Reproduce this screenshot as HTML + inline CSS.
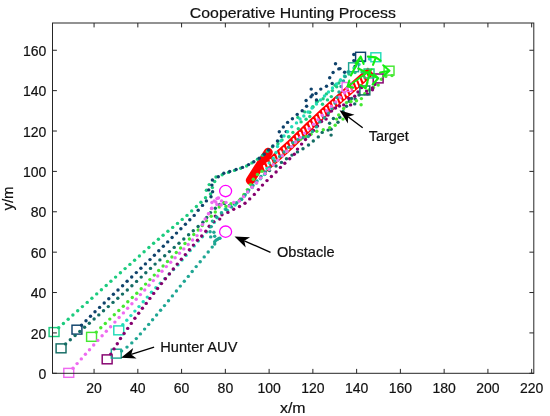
<!DOCTYPE html>
<html><head><meta charset="utf-8"><title>Cooperative Hunting Process</title>
<style>html,body{margin:0;padding:0;background:#fff}body{width:550px;height:416px;overflow:hidden}</style></head>
<body>
<svg width="550" height="416" viewBox="0 0 550 416" style="display:block">
<rect x="0" y="0" width="550" height="416" fill="#fff"/>
<rect x="49.1" y="327.6" width="9.9" height="8.9" fill="none" stroke="#1ccb7e" stroke-width="1.45"/>
<rect x="56.1" y="343.9" width="9.9" height="8.9" fill="none" stroke="#146c64" stroke-width="1.45"/>
<rect x="72.0" y="325.2" width="9.9" height="8.9" fill="none" stroke="#0f426b" stroke-width="1.45"/>
<rect x="86.6" y="332.4" width="9.9" height="8.9" fill="none" stroke="#45e832" stroke-width="1.45"/>
<rect x="63.8" y="368.4" width="9.9" height="8.9" fill="none" stroke="#ee6af0" stroke-width="1.45"/>
<rect x="113.8" y="325.9" width="9.9" height="8.9" fill="none" stroke="#22dcb8" stroke-width="1.45"/>
<rect x="102.2" y="354.9" width="9.9" height="8.9" fill="none" stroke="#85006e" stroke-width="1.45"/>
<rect x="111.3" y="349.2" width="9.9" height="8.9" fill="none" stroke="#1fa693" stroke-width="1.45"/>
<line x1="250.3" y1="180.4" x2="268.3" y2="152.2" stroke="#ff0000" stroke-width="9" stroke-linecap="round"/>
<polyline points="262.0,170.1 270.4,162.6 290.0,145.0 310.0,125.5 326.0,110.6 360.5,80.3 371.0,70.9" fill="none" stroke="#ff0000" stroke-width="9.2" stroke-linecap="butt" stroke-linejoin="round"/>
<path d="M264.03 165.81L265.68 170.09M267.30 162.89L268.95 167.17M270.57 159.97L272.22 164.24M273.84 157.03L275.49 161.31M277.11 154.09L278.76 158.37M280.38 151.16L282.03 155.43M283.65 148.22L285.30 152.50M286.92 145.28L288.57 149.56M290.19 142.26L291.84 146.54M293.46 139.07L295.11 143.35M296.73 135.88L298.38 140.16M300.00 132.69L301.65 136.97M303.27 129.51L304.92 133.78M306.54 126.32L308.19 130.59M309.81 123.16L311.46 127.44M313.08 120.12L314.73 124.40M316.35 117.07L318.00 121.35M319.62 114.03L321.27 118.31M322.89 110.98L324.54 115.26M326.16 108.00L327.81 112.27M329.43 105.12L331.08 109.40M332.70 102.25L334.35 106.53M335.97 99.38L337.62 103.66M339.24 96.51L340.89 100.79M342.51 93.64L344.16 97.92M345.78 90.77L347.43 95.04M349.05 87.89L350.70 92.17M352.32 85.02L353.97 89.30M355.59 82.15L357.24 86.43M358.86 79.28L360.51 83.56M362.13 76.36L363.78 80.64M365.40 73.43L367.05 77.71" stroke="#fff" stroke-width="2.0" stroke-linecap="round" fill="none"/>
<g fill="#1ccb7e"><circle cx="58.7" cy="327.7" r="1.72"/><circle cx="63.4" cy="323.5" r="1.72"/><circle cx="68.2" cy="319.3" r="1.72"/><circle cx="72.9" cy="315.0" r="1.72"/><circle cx="77.7" cy="310.8" r="1.72"/><circle cx="82.4" cy="306.6" r="1.72"/><circle cx="87.2" cy="302.4" r="1.72"/><circle cx="91.9" cy="298.2" r="1.72"/><circle cx="96.7" cy="293.9" r="1.72"/><circle cx="101.4" cy="289.7" r="1.72"/><circle cx="106.2" cy="285.5" r="1.72"/><circle cx="110.9" cy="281.3" r="1.72"/><circle cx="115.6" cy="277.1" r="1.72"/><circle cx="120.4" cy="272.8" r="1.72"/><circle cx="125.1" cy="268.6" r="1.72"/><circle cx="129.9" cy="264.4" r="1.72"/><circle cx="134.6" cy="260.2" r="1.72"/><circle cx="139.4" cy="256.0" r="1.72"/><circle cx="144.1" cy="251.7" r="1.72"/><circle cx="148.9" cy="247.5" r="1.72"/><circle cx="153.6" cy="243.3" r="1.72"/><circle cx="158.4" cy="239.3" r="1.72"/><circle cx="163.1" cy="235.3" r="1.72"/><circle cx="167.9" cy="231.3" r="1.72"/><circle cx="172.7" cy="227.4" r="1.72"/><circle cx="177.5" cy="223.4" r="1.72"/><circle cx="182.2" cy="219.4" r="1.72"/><circle cx="187.0" cy="215.4" r="1.72"/><circle cx="191.7" cy="210.9" r="1.72"/><circle cx="196.4" cy="206.5" r="1.72"/><circle cx="200.9" cy="202.2" r="1.72"/><circle cx="205.5" cy="197.7" r="1.72"/><circle cx="210.5" cy="194.0" r="1.72"/><circle cx="206.4" cy="190.3" r="1.72"/><circle cx="212.4" cy="187.6" r="1.72"/><circle cx="209.2" cy="184.6" r="1.72"/><circle cx="214.7" cy="181.5" r="1.72"/><circle cx="216.0" cy="177.0" r="1.72"/><circle cx="222.2" cy="174.7" r="1.72"/><circle cx="228.5" cy="172.4" r="1.72"/><circle cx="234.5" cy="170.4" r="1.72"/><circle cx="240.7" cy="168.3" r="1.72"/><circle cx="246.6" cy="166.0" r="1.72"/><circle cx="251.9" cy="162.9" r="1.72"/><circle cx="257.5" cy="159.3" r="1.72"/><circle cx="262.6" cy="155.3" r="1.72"/><circle cx="267.5" cy="151.2" r="1.72"/><circle cx="272.5" cy="146.8" r="1.72"/><circle cx="277.9" cy="143.7" r="1.72"/><circle cx="282.0" cy="140.0" r="1.72"/><circle cx="288.9" cy="136.9" r="1.72"/><circle cx="288.7" cy="136.6" r="1.72"/><circle cx="292.9" cy="132.4" r="1.72"/><circle cx="298.3" cy="128.8" r="1.72"/><circle cx="301.1" cy="121.9" r="1.72"/><circle cx="297.9" cy="117.4" r="1.72"/><circle cx="304.7" cy="111.9" r="1.72"/><circle cx="306.1" cy="119.2" r="1.72"/><circle cx="309.8" cy="116.5" r="1.72"/><circle cx="309.8" cy="112.3" r="1.72"/><circle cx="313.0" cy="106.9" r="1.72"/><circle cx="317.5" cy="101.4" r="1.72"/><circle cx="312.7" cy="107.0" r="1.72"/><circle cx="316.5" cy="102.1" r="1.72"/><circle cx="322.5" cy="104.3" r="1.72"/><circle cx="323.1" cy="98.8" r="1.72"/><circle cx="327.5" cy="99.9" r="1.72"/><circle cx="326.4" cy="93.9" r="1.72"/><circle cx="331.3" cy="96.6" r="1.72"/><circle cx="332.4" cy="90.6" r="1.72"/><circle cx="335.1" cy="85.2" r="1.72"/><circle cx="336.7" cy="86.8" r="1.72"/><circle cx="338.9" cy="83.0" r="1.72"/><circle cx="340.5" cy="80.3" r="1.72"/><circle cx="344.9" cy="76.5" r="1.72"/><circle cx="349.0" cy="74.0" r="1.72"/><circle cx="355.0" cy="72.5" r="1.72"/><circle cx="362.0" cy="72.0" r="1.72"/></g>
<g fill="#0f426b"><circle cx="81.5" cy="325.2" r="1.72"/><circle cx="86.0" cy="320.7" r="1.72"/><circle cx="90.5" cy="316.2" r="1.72"/><circle cx="95.0" cy="311.7" r="1.72"/><circle cx="99.6" cy="307.4" r="1.72"/><circle cx="104.2" cy="303.0" r="1.72"/><circle cx="108.8" cy="298.7" r="1.72"/><circle cx="113.4" cy="294.3" r="1.72"/><circle cx="118.0" cy="290.0" r="1.72"/><circle cx="122.6" cy="285.7" r="1.72"/><circle cx="127.1" cy="281.3" r="1.72"/><circle cx="131.7" cy="277.0" r="1.72"/><circle cx="136.3" cy="272.6" r="1.72"/><circle cx="140.9" cy="268.3" r="1.72"/><circle cx="145.4" cy="263.9" r="1.72"/><circle cx="150.0" cy="259.6" r="1.72"/><circle cx="154.4" cy="255.2" r="1.72"/><circle cx="158.8" cy="250.8" r="1.72"/><circle cx="163.3" cy="246.3" r="1.72"/><circle cx="167.7" cy="241.9" r="1.72"/><circle cx="172.1" cy="237.5" r="1.72"/><circle cx="176.5" cy="233.1" r="1.72"/><circle cx="180.9" cy="228.7" r="1.72"/><circle cx="185.4" cy="224.2" r="1.72"/><circle cx="189.8" cy="219.8" r="1.72"/><circle cx="194.2" cy="215.4" r="1.72"/><circle cx="198.2" cy="210.2" r="1.72"/><circle cx="202.5" cy="205.4" r="1.72"/><circle cx="206.4" cy="200.9" r="1.72"/><circle cx="211.0" cy="196.7" r="1.72"/><circle cx="212.6" cy="191.7" r="1.72"/><circle cx="208.7" cy="189.9" r="1.72"/><circle cx="211.9" cy="185.1" r="1.72"/><circle cx="212.4" cy="180.0" r="1.72"/><circle cx="218.3" cy="176.7" r="1.72"/><circle cx="223.8" cy="173.3" r="1.72"/><circle cx="229.7" cy="171.5" r="1.72"/><circle cx="236.1" cy="169.5" r="1.72"/><circle cx="242.5" cy="167.4" r="1.72"/><circle cx="248.6" cy="164.6" r="1.72"/><circle cx="253.8" cy="161.7" r="1.72"/><circle cx="259.2" cy="158.2" r="1.72"/><circle cx="264.2" cy="154.2" r="1.72"/><circle cx="268.6" cy="150.0" r="1.72"/><circle cx="272.9" cy="146.0" r="1.72"/><circle cx="277.5" cy="141.0" r="1.72"/><circle cx="281.6" cy="136.2" r="1.72"/><circle cx="286.2" cy="131.6" r="1.72"/><circle cx="281.4" cy="136.1" r="1.72"/><circle cx="279.3" cy="131.8" r="1.72"/><circle cx="283.3" cy="127.0" r="1.72"/><circle cx="287.6" cy="122.4" r="1.72"/><circle cx="292.4" cy="118.7" r="1.72"/><circle cx="297.2" cy="114.4" r="1.72"/><circle cx="302.2" cy="110.8" r="1.72"/><circle cx="306.6" cy="106.2" r="1.72"/><circle cx="306.1" cy="100.5" r="1.72"/><circle cx="311.0" cy="96.7" r="1.72"/><circle cx="312.3" cy="94.9" r="1.72"/><circle cx="316.0" cy="93.5" r="1.72"/><circle cx="316.5" cy="99.9" r="1.72"/><circle cx="311.2" cy="89.1" r="1.72"/><circle cx="320.8" cy="89.1" r="1.72"/><circle cx="326.5" cy="86.2" r="1.72"/><circle cx="332.2" cy="83.5" r="1.72"/><circle cx="329.7" cy="77.7" r="1.72"/><circle cx="333.1" cy="72.5" r="1.72"/><circle cx="338.8" cy="68.9" r="1.72"/><circle cx="335.5" cy="63.8" r="1.72"/><circle cx="344.6" cy="72.2" r="1.72"/><circle cx="340.0" cy="68.6" r="1.72"/><circle cx="354.9" cy="66.5" r="1.72"/><circle cx="353.8" cy="60.6" r="1.72"/><circle cx="353.8" cy="54.5" r="1.72"/></g>
<g fill="#146c64"><circle cx="65.6" cy="343.9" r="1.72"/><circle cx="70.3" cy="339.8" r="1.72"/><circle cx="75.1" cy="335.6" r="1.72"/><circle cx="79.8" cy="331.5" r="1.72"/><circle cx="84.6" cy="327.3" r="1.72"/><circle cx="89.3" cy="323.2" r="1.72"/><circle cx="94.1" cy="319.0" r="1.72"/><circle cx="98.8" cy="314.9" r="1.72"/><circle cx="103.5" cy="310.8" r="1.72"/><circle cx="108.3" cy="306.6" r="1.72"/><circle cx="113.0" cy="302.4" r="1.72"/><circle cx="117.8" cy="298.3" r="1.72"/><circle cx="122.5" cy="294.1" r="1.72"/><circle cx="127.3" cy="290.0" r="1.72"/><circle cx="131.9" cy="285.7" r="1.72"/><circle cx="136.6" cy="281.4" r="1.72"/><circle cx="141.2" cy="277.1" r="1.72"/><circle cx="145.8" cy="272.7" r="1.72"/><circle cx="150.5" cy="268.4" r="1.72"/><circle cx="155.1" cy="264.1" r="1.72"/><circle cx="159.9" cy="259.9" r="1.72"/><circle cx="164.7" cy="255.7" r="1.72"/><circle cx="169.4" cy="251.6" r="1.72"/><circle cx="174.2" cy="247.4" r="1.72"/><circle cx="179.0" cy="243.2" r="1.72"/><circle cx="183.8" cy="239.0" r="1.72"/><circle cx="188.6" cy="234.8" r="1.72"/><circle cx="193.3" cy="230.7" r="1.72"/><circle cx="198.1" cy="226.5" r="1.72"/><circle cx="202.9" cy="222.3" r="1.72"/><circle cx="206.7" cy="217.5" r="1.72"/><circle cx="210.5" cy="212.6" r="1.72"/><circle cx="215.3" cy="208.2" r="1.72"/><circle cx="219.7" cy="204.5" r="1.72"/><circle cx="224.5" cy="203.5" r="1.72"/><circle cx="229.5" cy="205.5" r="1.72"/><circle cx="234.5" cy="204.0" r="1.72"/><circle cx="239.5" cy="200.5" r="1.72"/><circle cx="243.8" cy="196.0" r="1.72"/><circle cx="247.8" cy="191.3" r="1.72"/><circle cx="252.0" cy="186.8" r="1.72"/><circle cx="256.2" cy="182.5" r="1.72"/><circle cx="260.5" cy="178.3" r="1.72"/><circle cx="264.8" cy="174.3" r="1.72"/><circle cx="269.5" cy="170.5" r="1.72"/><circle cx="276.0" cy="166.0" r="1.72"/><circle cx="281.5" cy="162.4" r="1.72"/><circle cx="286.5" cy="158.7" r="1.72"/><circle cx="292.0" cy="155.1" r="1.72"/><circle cx="297.5" cy="151.9" r="1.72"/><circle cx="303.0" cy="148.7" r="1.72"/><circle cx="308.5" cy="145.0" r="1.72"/><circle cx="313.3" cy="141.0" r="1.72"/><circle cx="318.3" cy="136.9" r="1.72"/><circle cx="322.2" cy="132.4" r="1.72"/><circle cx="328.1" cy="130.1" r="1.72"/><circle cx="331.1" cy="129.2" r="1.72"/><circle cx="331.1" cy="135.1" r="1.72"/><circle cx="329.6" cy="123.2" r="1.72"/><circle cx="333.4" cy="118.5" r="1.72"/><circle cx="338.0" cy="122.3" r="1.72"/><circle cx="339.8" cy="117.3" r="1.72"/><circle cx="343.0" cy="111.5" r="1.72"/><circle cx="346.5" cy="106.2" r="1.72"/><circle cx="349.2" cy="101.2" r="1.72"/><circle cx="351.5" cy="98.5" r="1.72"/><circle cx="355.2" cy="98.9" r="1.72"/><circle cx="354.7" cy="103.9" r="1.72"/><circle cx="359.0" cy="95.0" r="1.72"/></g>
<g fill="#45e832"><circle cx="96.3" cy="332.1" r="1.72"/><circle cx="100.8" cy="327.8" r="1.72"/><circle cx="105.3" cy="323.5" r="1.72"/><circle cx="109.8" cy="319.1" r="1.72"/><circle cx="114.3" cy="314.8" r="1.72"/><circle cx="118.8" cy="310.5" r="1.72"/><circle cx="123.3" cy="306.2" r="1.72"/><circle cx="127.8" cy="301.8" r="1.72"/><circle cx="132.3" cy="297.5" r="1.72"/><circle cx="136.8" cy="293.2" r="1.72"/><circle cx="141.2" cy="288.7" r="1.72"/><circle cx="145.6" cy="284.1" r="1.72"/><circle cx="149.9" cy="279.6" r="1.72"/><circle cx="154.3" cy="275.1" r="1.72"/><circle cx="158.7" cy="270.5" r="1.72"/><circle cx="163.1" cy="266.0" r="1.72"/><circle cx="167.5" cy="261.5" r="1.72"/><circle cx="171.9" cy="257.0" r="1.72"/><circle cx="176.3" cy="252.5" r="1.72"/><circle cx="180.6" cy="248.0" r="1.72"/><circle cx="185.0" cy="243.5" r="1.72"/><circle cx="189.4" cy="239.0" r="1.72"/><circle cx="193.8" cy="234.5" r="1.72"/><circle cx="198.2" cy="230.0" r="1.72"/><circle cx="202.3" cy="225.5" r="1.72"/><circle cx="206.5" cy="220.8" r="1.72"/><circle cx="211.2" cy="216.3" r="1.72"/><circle cx="215.3" cy="212.0" r="1.72"/><circle cx="219.2" cy="207.1" r="1.72"/><circle cx="223.7" cy="202.4" r="1.72"/><circle cx="226.0" cy="206.5" r="1.72"/><circle cx="231.0" cy="203.8" r="1.72"/><circle cx="236.0" cy="203.5" r="1.72"/><circle cx="240.3" cy="199.3" r="1.72"/><circle cx="244.0" cy="194.5" r="1.72"/><circle cx="247.4" cy="189.6" r="1.72"/><circle cx="250.6" cy="184.6" r="1.72"/><circle cx="253.3" cy="179.2" r="1.72"/><circle cx="257.4" cy="174.5" r="1.72"/><circle cx="262.0" cy="171.2" r="1.72"/><circle cx="265.1" cy="173.6" r="1.72"/><circle cx="269.2" cy="169.2" r="1.72"/><circle cx="273.3" cy="164.7" r="1.72"/><circle cx="277.9" cy="160.3" r="1.72"/><circle cx="282.4" cy="155.7" r="1.72"/><circle cx="286.8" cy="151.2" r="1.72"/><circle cx="291.6" cy="146.6" r="1.72"/><circle cx="295.7" cy="142.0" r="1.72"/><circle cx="300.5" cy="139.3" r="1.72"/><circle cx="306.0" cy="136.5" r="1.72"/><circle cx="311.0" cy="134.2" r="1.72"/><circle cx="316.8" cy="131.3" r="1.72"/><circle cx="323.3" cy="129.8" r="1.72"/><circle cx="329.7" cy="127.8" r="1.72"/><circle cx="335.2" cy="125.2" r="1.72"/><circle cx="336.6" cy="119.1" r="1.72"/><circle cx="343.0" cy="119.1" r="1.72"/><circle cx="338.7" cy="114.9" r="1.72"/><circle cx="343.7" cy="108.5" r="1.72"/><circle cx="346.5" cy="102.6" r="1.72"/><circle cx="351.0" cy="101.5" r="1.72"/><circle cx="356.5" cy="100.7" r="1.72"/><circle cx="361.4" cy="98.6" r="1.72"/><circle cx="361.1" cy="104.7" r="1.72"/><circle cx="364.8" cy="93.7" r="1.72"/><circle cx="369.0" cy="90.0" r="1.72"/><circle cx="373.5" cy="87.5" r="1.72"/><circle cx="378.2" cy="85.1" r="1.72"/><circle cx="381.5" cy="79.3" r="1.72"/><circle cx="385.8" cy="76.4" r="1.72"/><circle cx="392.0" cy="75.6" r="1.72"/></g>
<g fill="#22dcb8"><circle cx="122.8" cy="324.7" r="1.72"/><circle cx="126.8" cy="320.2" r="1.72"/><circle cx="130.9" cy="315.6" r="1.72"/><circle cx="134.9" cy="311.1" r="1.72"/><circle cx="139.0" cy="306.6" r="1.72"/><circle cx="143.2" cy="301.8" r="1.72"/><circle cx="147.3" cy="297.1" r="1.72"/><circle cx="151.5" cy="292.3" r="1.72"/><circle cx="155.9" cy="287.7" r="1.72"/><circle cx="160.3" cy="283.2" r="1.72"/><circle cx="164.8" cy="278.6" r="1.72"/><circle cx="169.2" cy="274.0" r="1.72"/><circle cx="173.6" cy="269.5" r="1.72"/><circle cx="178.0" cy="264.9" r="1.72"/><circle cx="182.1" cy="260.1" r="1.72"/><circle cx="186.1" cy="255.4" r="1.72"/><circle cx="190.2" cy="250.6" r="1.72"/><circle cx="194.2" cy="245.9" r="1.72"/><circle cx="198.3" cy="241.1" r="1.72"/><circle cx="202.5" cy="236.8" r="1.72"/><circle cx="206.6" cy="232.0" r="1.72"/><circle cx="210.0" cy="227.0" r="1.72"/><circle cx="214.3" cy="222.4" r="1.72"/><circle cx="217.3" cy="217.8" r="1.72"/><circle cx="221.5" cy="212.7" r="1.72"/><circle cx="225.2" cy="209.1" r="1.72"/><circle cx="227.5" cy="210.5" r="1.72"/><circle cx="230.2" cy="206.3" r="1.72"/><circle cx="235.2" cy="205.0" r="1.72"/><circle cx="237.0" cy="202.7" r="1.72"/><circle cx="241.6" cy="199.5" r="1.72"/><circle cx="244.4" cy="196.3" r="1.72"/><circle cx="248.0" cy="192.0" r="1.72"/><circle cx="252.3" cy="187.5" r="1.72"/><circle cx="256.5" cy="183.0" r="1.72"/><circle cx="260.5" cy="178.8" r="1.72"/><circle cx="264.5" cy="174.5" r="1.72"/><circle cx="267.0" cy="168.5" r="1.72"/><circle cx="269.2" cy="162.9" r="1.72"/><circle cx="273.3" cy="158.3" r="1.72"/><circle cx="276.0" cy="152.5" r="1.72"/><circle cx="277.5" cy="146.5" r="1.72"/><circle cx="280.7" cy="140.9" r="1.72"/><circle cx="284.0" cy="136.0" r="1.72"/><circle cx="287.6" cy="131.8" r="1.72"/><circle cx="291.7" cy="126.7" r="1.72"/><circle cx="296.5" cy="122.9" r="1.72"/><circle cx="300.0" cy="119.0" r="1.72"/><circle cx="303.8" cy="116.0" r="1.72"/><circle cx="308.0" cy="112.0" r="1.72"/><circle cx="312.0" cy="108.0" r="1.72"/><circle cx="316.5" cy="104.0" r="1.72"/><circle cx="320.5" cy="100.0" r="1.72"/><circle cx="324.5" cy="96.0" r="1.72"/><circle cx="328.5" cy="92.0" r="1.72"/><circle cx="332.5" cy="88.0" r="1.72"/><circle cx="336.5" cy="84.0" r="1.72"/><circle cx="340.5" cy="80.0" r="1.72"/><circle cx="344.5" cy="76.0" r="1.72"/><circle cx="349.0" cy="72.0" r="1.72"/><circle cx="354.0" cy="68.0" r="1.72"/><circle cx="359.0" cy="64.5" r="1.72"/><circle cx="364.0" cy="61.5" r="1.72"/><circle cx="369.5" cy="59.0" r="1.72"/></g>
<g fill="#85006e"><circle cx="110.8" cy="354.1" r="1.72"/><circle cx="114.0" cy="348.9" r="1.72"/><circle cx="117.3" cy="343.7" r="1.72"/><circle cx="120.5" cy="338.5" r="1.72"/><circle cx="124.1" cy="333.4" r="1.72"/><circle cx="127.7" cy="328.4" r="1.72"/><circle cx="131.3" cy="323.4" r="1.72"/><circle cx="134.9" cy="318.3" r="1.72"/><circle cx="138.7" cy="313.3" r="1.72"/><circle cx="142.4" cy="308.3" r="1.72"/><circle cx="146.2" cy="303.4" r="1.72"/><circle cx="149.9" cy="298.4" r="1.72"/><circle cx="153.7" cy="293.4" r="1.72"/><circle cx="157.6" cy="288.5" r="1.72"/><circle cx="161.5" cy="283.6" r="1.72"/><circle cx="165.4" cy="278.8" r="1.72"/><circle cx="169.4" cy="273.9" r="1.72"/><circle cx="173.3" cy="269.0" r="1.72"/><circle cx="177.2" cy="264.1" r="1.72"/><circle cx="181.3" cy="259.3" r="1.72"/><circle cx="185.3" cy="254.6" r="1.72"/><circle cx="189.4" cy="249.8" r="1.72"/><circle cx="193.4" cy="245.1" r="1.72"/><circle cx="197.5" cy="240.3" r="1.72"/><circle cx="201.7" cy="236.0" r="1.72"/><circle cx="205.8" cy="231.2" r="1.72"/><circle cx="209.2" cy="226.2" r="1.72"/><circle cx="213.7" cy="221.6" r="1.72"/><circle cx="215.3" cy="216.1" r="1.72"/><circle cx="219.7" cy="219.1" r="1.72"/><circle cx="222.0" cy="214.7" r="1.72"/><circle cx="227.9" cy="212.4" r="1.72"/><circle cx="233.7" cy="209.3" r="1.72"/><circle cx="239.5" cy="206.5" r="1.72"/><circle cx="245.0" cy="203.3" r="1.72"/><circle cx="249.7" cy="198.9" r="1.72"/><circle cx="254.3" cy="194.4" r="1.72"/><circle cx="258.4" cy="189.6" r="1.72"/><circle cx="262.5" cy="185.1" r="1.72"/><circle cx="267.0" cy="180.6" r="1.72"/><circle cx="271.4" cy="176.5" r="1.72"/><circle cx="276.1" cy="172.0" r="1.72"/><circle cx="280.4" cy="167.4" r="1.72"/><circle cx="284.8" cy="163.3" r="1.72"/><circle cx="289.7" cy="158.7" r="1.72"/><circle cx="294.3" cy="154.2" r="1.72"/><circle cx="297.5" cy="149.1" r="1.72"/><circle cx="301.6" cy="144.1" r="1.72"/><circle cx="305.5" cy="139.5" r="1.72"/><circle cx="309.5" cy="135.0" r="1.72"/><circle cx="313.5" cy="130.5" r="1.72"/><circle cx="317.5" cy="126.0" r="1.72"/><circle cx="321.5" cy="121.5" r="1.72"/><circle cx="326.1" cy="119.1" r="1.72"/><circle cx="328.0" cy="115.0" r="1.72"/><circle cx="331.5" cy="111.0" r="1.72"/><circle cx="335.5" cy="108.0" r="1.72"/><circle cx="339.5" cy="106.0" r="1.72"/><circle cx="343.7" cy="104.9" r="1.72"/><circle cx="350.6" cy="104.9" r="1.72"/><circle cx="348.8" cy="98.5" r="1.72"/><circle cx="354.7" cy="96.2" r="1.72"/><circle cx="358.0" cy="92.0" r="1.72"/><circle cx="361.6" cy="87.5" r="1.72"/><circle cx="366.6" cy="91.1" r="1.72"/><circle cx="367.5" cy="93.9" r="1.72"/><circle cx="372.5" cy="89.8" r="1.72"/><circle cx="372.4" cy="88.0" r="1.72"/><circle cx="374.9" cy="84.4" r="1.72"/></g>
<g fill="#1fa693"><circle cx="121.6" cy="350.9" r="1.72"/><circle cx="127.0" cy="347.1" r="1.72"/><circle cx="131.8" cy="342.9" r="1.72"/><circle cx="136.3" cy="338.6" r="1.72"/><circle cx="140.4" cy="333.9" r="1.72"/><circle cx="144.6" cy="329.1" r="1.72"/><circle cx="148.7" cy="324.4" r="1.72"/><circle cx="152.6" cy="319.7" r="1.72"/><circle cx="156.6" cy="315.0" r="1.72"/><circle cx="160.6" cy="310.3" r="1.72"/><circle cx="164.5" cy="305.6" r="1.72"/><circle cx="168.5" cy="300.7" r="1.72"/><circle cx="172.4" cy="295.9" r="1.72"/><circle cx="176.4" cy="291.0" r="1.72"/><circle cx="180.3" cy="286.1" r="1.72"/><circle cx="184.3" cy="281.2" r="1.72"/><circle cx="188.3" cy="276.4" r="1.72"/><circle cx="192.2" cy="271.5" r="1.72"/><circle cx="196.2" cy="266.6" r="1.72"/><circle cx="200.2" cy="261.7" r="1.72"/><circle cx="204.2" cy="256.9" r="1.72"/><circle cx="208.2" cy="252.0" r="1.72"/><circle cx="212.2" cy="247.1" r="1.72"/><circle cx="214.7" cy="244.0" r="1.72"/><circle cx="214.7" cy="241.7" r="1.72"/><circle cx="216.0" cy="240.3" r="1.72"/><circle cx="217.4" cy="239.4" r="1.72"/><circle cx="218.8" cy="238.5" r="1.72"/><circle cx="219.9" cy="238.3" r="1.72"/><circle cx="214.7" cy="236.2" r="1.72"/><circle cx="210.7" cy="236.9" r="1.72"/><circle cx="213.9" cy="232.3" r="1.72"/><circle cx="210.1" cy="231.7" r="1.72"/><circle cx="211.3" cy="226.6" r="1.72"/><circle cx="212.4" cy="221.1" r="1.72"/><circle cx="216.5" cy="217.0" r="1.72"/><circle cx="221.5" cy="212.9" r="1.72"/><circle cx="226.0" cy="209.5" r="1.72"/><circle cx="231.5" cy="207.0" r="1.72"/><circle cx="236.4" cy="202.9" r="1.72"/><circle cx="241.5" cy="199.2" r="1.72"/><circle cx="245.2" cy="194.7" r="1.72"/><circle cx="248.8" cy="190.1" r="1.72"/><circle cx="253.0" cy="185.5" r="1.72"/><circle cx="257.0" cy="181.0" r="1.72"/><circle cx="261.0" cy="176.5" r="1.72"/><circle cx="265.3" cy="172.0" r="1.72"/><circle cx="269.6" cy="167.5" r="1.72"/><circle cx="274.7" cy="161.0" r="1.72"/><circle cx="279.7" cy="156.5" r="1.72"/><circle cx="284.1" cy="151.9" r="1.72"/><circle cx="288.4" cy="147.3" r="1.72"/><circle cx="292.9" cy="142.7" r="1.72"/><circle cx="298.0" cy="139.5" r="1.72"/><circle cx="303.0" cy="137.5" r="1.72"/><circle cx="308.3" cy="136.5" r="1.72"/><circle cx="312.4" cy="131.6" r="1.72"/><circle cx="316.5" cy="126.9" r="1.72"/><circle cx="319.7" cy="121.9" r="1.72"/><circle cx="324.3" cy="117.7" r="1.72"/><circle cx="328.5" cy="113.0" r="1.72"/><circle cx="332.0" cy="108.5" r="1.72"/><circle cx="335.0" cy="103.0" r="1.72"/><circle cx="337.0" cy="97.5" r="1.72"/><circle cx="339.0" cy="92.0" r="1.72"/><circle cx="341.0" cy="86.5" r="1.72"/><circle cx="343.5" cy="81.0" r="1.72"/><circle cx="345.2" cy="76.6" r="1.72"/><circle cx="348.0" cy="72.0" r="1.72"/></g>
<g fill="#ee6af0"><circle cx="73.0" cy="368.2" r="1.72"/><circle cx="77.1" cy="363.6" r="1.72"/><circle cx="81.3" cy="358.9" r="1.72"/><circle cx="85.4" cy="354.3" r="1.72"/><circle cx="89.5" cy="349.7" r="1.72"/><circle cx="93.7" cy="345.0" r="1.72"/><circle cx="97.8" cy="340.4" r="1.72"/><circle cx="102.1" cy="335.8" r="1.72"/><circle cx="106.3" cy="331.2" r="1.72"/><circle cx="110.6" cy="326.7" r="1.72"/><circle cx="114.9" cy="322.1" r="1.72"/><circle cx="119.1" cy="317.5" r="1.72"/><circle cx="123.4" cy="312.9" r="1.72"/><circle cx="127.6" cy="308.3" r="1.72"/><circle cx="131.9" cy="303.7" r="1.72"/><circle cx="136.2" cy="299.2" r="1.72"/><circle cx="140.4" cy="294.6" r="1.72"/><circle cx="144.7" cy="290.0" r="1.72"/><circle cx="149.0" cy="285.3" r="1.72"/><circle cx="153.3" cy="280.6" r="1.72"/><circle cx="157.7" cy="276.0" r="1.72"/><circle cx="162.0" cy="271.3" r="1.72"/><circle cx="166.3" cy="266.6" r="1.72"/><circle cx="170.7" cy="262.2" r="1.72"/><circle cx="175.1" cy="257.7" r="1.72"/><circle cx="179.5" cy="253.3" r="1.72"/><circle cx="183.8" cy="248.9" r="1.72"/><circle cx="188.2" cy="244.5" r="1.72"/><circle cx="192.6" cy="240.0" r="1.72"/><circle cx="197.0" cy="235.6" r="1.72"/><circle cx="200.7" cy="230.3" r="1.72"/><circle cx="202.5" cy="224.6" r="1.72"/><circle cx="205.2" cy="218.9" r="1.72"/><circle cx="208.5" cy="213.8" r="1.72"/><circle cx="211.5" cy="208.5" r="1.72"/><circle cx="211.9" cy="202.5" r="1.72"/><circle cx="214.2" cy="200.9" r="1.72"/><circle cx="216.9" cy="198.6" r="1.72"/><circle cx="218.6" cy="197.9" r="1.72"/><circle cx="215.8" cy="202.0" r="1.72"/><circle cx="216.9" cy="204.5" r="1.72"/><circle cx="221.5" cy="200.9" r="1.72"/><circle cx="221.0" cy="205.0" r="1.72"/><circle cx="211.9" cy="208.2" r="1.72"/><circle cx="208.7" cy="213.6" r="1.72"/><circle cx="217.7" cy="198.3" r="1.72"/><circle cx="220.9" cy="204.7" r="1.72"/><circle cx="226.0" cy="202.4" r="1.72"/><circle cx="229.2" cy="206.1" r="1.72"/><circle cx="233.7" cy="202.4" r="1.72"/><circle cx="239.2" cy="201.0" r="1.72"/><circle cx="243.5" cy="196.8" r="1.72"/><circle cx="247.7" cy="191.9" r="1.72"/><circle cx="252.0" cy="187.3" r="1.72"/><circle cx="256.6" cy="182.8" r="1.72"/><circle cx="260.6" cy="178.0" r="1.72"/><circle cx="265.1" cy="173.6" r="1.72"/><circle cx="269.2" cy="169.2" r="1.72"/><circle cx="273.3" cy="164.7" r="1.72"/><circle cx="277.9" cy="160.3" r="1.72"/><circle cx="282.4" cy="155.7" r="1.72"/><circle cx="286.8" cy="151.2" r="1.72"/><circle cx="291.6" cy="146.6" r="1.72"/><circle cx="295.7" cy="142.0" r="1.72"/><circle cx="300.1" cy="137.6" r="1.72"/><circle cx="304.6" cy="133.1" r="1.72"/><circle cx="309.1" cy="128.7" r="1.72"/><circle cx="313.5" cy="124.2" r="1.72"/><circle cx="317.9" cy="119.8" r="1.72"/><circle cx="322.4" cy="115.3" r="1.72"/><circle cx="326.8" cy="110.8" r="1.72"/><circle cx="331.3" cy="106.4" r="1.72"/><circle cx="335.8" cy="101.9" r="1.72"/><circle cx="340.2" cy="97.5" r="1.72"/><circle cx="344.6" cy="93.0" r="1.72"/><circle cx="347.0" cy="88.5" r="1.72"/></g>
<ellipse cx="225.6" cy="191.1" rx="6.0" ry="5.65" fill="none" stroke="#ff00ff" stroke-width="1.3"/>
<ellipse cx="225.6" cy="231.65" rx="6.0" ry="5.65" fill="none" stroke="#ff00ff" stroke-width="1.3"/>
<rect x="355.6" y="52.3" width="9.9" height="8.9" fill="none" stroke="#0f426b" stroke-width="1.45"/>
<rect x="370.9" y="52.8" width="9.9" height="8.9" fill="none" stroke="#22dcb8" stroke-width="1.45"/>
<rect x="348.6" y="62.8" width="9.9" height="8.9" fill="none" stroke="#1fa693" stroke-width="1.45"/>
<rect x="384.1" y="66.2" width="9.9" height="8.9" fill="none" stroke="#45e832" stroke-width="1.45"/>
<rect x="373.2" y="74.0" width="9.9" height="8.9" fill="none" stroke="#85006e" stroke-width="1.45"/>
<rect x="364.1" y="69.0" width="9.9" height="8.9" fill="none" stroke="#1ccb7e" stroke-width="1.45"/>
<rect x="342.1" y="82.5" width="9.9" height="8.9" fill="none" stroke="#ee6af0" stroke-width="1.45"/>
<rect x="359.9" y="86.0" width="9.9" height="8.9" fill="none" stroke="#146c64" stroke-width="1.45"/>
<path d="M350.9 75.5L360.7 56.6M355.6 63.5L360.7 56.6L363.6 63.9" fill="none" stroke="#12ee12" stroke-width="2.1" stroke-linecap="round" stroke-linejoin="round"/>
<path d="M373 64.8L375.9 57.4M367.9 56.6L375.9 57.4L380.6 60.6" fill="none" stroke="#12ee12" stroke-width="2.1" stroke-linecap="round" stroke-linejoin="round"/>
<path d="M380.1 72.5L389.5 70.7M383.2 65.3L389.5 70.7L383.2 76.1" fill="none" stroke="#12ee12" stroke-width="2.1" stroke-linecap="round" stroke-linejoin="round"/>
<path d="M358.3 68.5L378.3 78.3M373.9 74.3L378.3 78.3L372.6 84.5" fill="none" stroke="#12ee12" stroke-width="2.1" stroke-linecap="round" stroke-linejoin="round"/>
<path d="M371.7 69.5L347.5 86.5M349.3 80.5L347.5 86.5L353.2 87.6" fill="none" stroke="#12ee12" stroke-width="2.1" stroke-linecap="round" stroke-linejoin="round"/>
<path d="M370 72L365.6 88.5M360.5 85L365.6 88.5L367.5 82.5" fill="none" stroke="#12ee12" stroke-width="2.1" stroke-linecap="round" stroke-linejoin="round"/>
<rect x="52.5" y="23.0" width="481.29999999999995" height="350.3" fill="none" stroke="#262626" stroke-width="1"/>
<path d="M94.07 373.3v-4.4M94.07 23.0v4.4M137.83 373.3v-4.4M137.83 23.0v4.4M181.59 373.3v-4.4M181.59 23.0v4.4M225.35 373.3v-4.4M225.35 23.0v4.4M269.11 373.3v-4.4M269.11 23.0v4.4M312.87 373.3v-4.4M312.87 23.0v4.4M356.63 373.3v-4.4M356.63 23.0v4.4M400.39 373.3v-4.4M400.39 23.0v4.4M444.15 373.3v-4.4M444.15 23.0v4.4M487.91 373.3v-4.4M487.91 23.0v4.4M531.67 373.3v-4.4M531.67 23.0v4.4M52.5 373.30h4.4M533.8 373.30h-4.4M52.5 332.92h4.4M533.8 332.92h-4.4M52.5 292.54h4.4M533.8 292.54h-4.4M52.5 252.16h4.4M533.8 252.16h-4.4M52.5 211.78h4.4M533.8 211.78h-4.4M52.5 171.40h4.4M533.8 171.40h-4.4M52.5 131.02h4.4M533.8 131.02h-4.4M52.5 90.64h4.4M533.8 90.64h-4.4M52.5 50.26h4.4M533.8 50.26h-4.4" stroke="#262626" stroke-width="1" fill="none"/>
<g font-family="Liberation Sans, Arial, Helvetica, sans-serif" font-size="14" fill="#111" stroke="#111" stroke-width="0.2">
<text x="94.1" y="392.6" text-anchor="middle">20</text>
<text x="137.8" y="392.6" text-anchor="middle">40</text>
<text x="181.6" y="392.6" text-anchor="middle">60</text>
<text x="225.4" y="392.6" text-anchor="middle">80</text>
<text x="269.1" y="392.6" text-anchor="middle">100</text>
<text x="312.9" y="392.6" text-anchor="middle">120</text>
<text x="356.6" y="392.6" text-anchor="middle">140</text>
<text x="400.4" y="392.6" text-anchor="middle">160</text>
<text x="444.2" y="392.6" text-anchor="middle">180</text>
<text x="487.9" y="392.6" text-anchor="middle">200</text>
<text x="531.7" y="392.6" text-anchor="middle">220</text>
<text x="46.4" y="378.9" text-anchor="end">0</text>
<text x="46.4" y="338.5" text-anchor="end">20</text>
<text x="46.4" y="298.1" text-anchor="end">40</text>
<text x="46.4" y="257.8" text-anchor="end">60</text>
<text x="46.4" y="217.4" text-anchor="end">80</text>
<text x="46.4" y="177.0" text-anchor="end">100</text>
<text x="46.4" y="136.6" text-anchor="end">120</text>
<text x="46.4" y="96.2" text-anchor="end">140</text>
<text x="46.4" y="55.9" text-anchor="end">160</text>
<text transform="translate(292.8,412.5) scale(1.04,1)" text-anchor="middle" font-size="15.3">x/m</text>
<text transform="translate(13.1,198.5) rotate(-90)" text-anchor="middle" font-size="15.0">y/m</text>
<text transform="translate(368.8,141.4) scale(1.03,1)" font-size="14">Target</text>
<text transform="translate(277.0,257.1) scale(1.043,1)" font-size="14">Obstacle</text>
<text transform="translate(160.3,352.1) scale(1.043,1)" font-size="14">Hunter AUV</text>
</g>
<text font-family="Liberation Sans, Arial, Helvetica, sans-serif" font-size="15.25" fill="#111" stroke="#111" stroke-width="0.2" transform="translate(292.9,17.5) scale(1.04,1)" text-anchor="middle">Cooperative Hunting Process</text>
<line x1="362.7" y1="127.7" x2="348.0" y2="116.7" stroke="#000" stroke-width="1.35"/>
<path d="M339.5 110.3L354.5 114.7L348.0 116.7L347.9 123.5Z" fill="#000"/>
<line x1="270.5" y1="252.3" x2="244.3" y2="240.8" stroke="#000" stroke-width="1.35"/>
<path d="M234.5 236.5L250.1 237.3L244.3 240.8L245.7 247.4Z" fill="#000"/>
<line x1="154.1" y1="347.1" x2="131.2" y2="354.4" stroke="#000" stroke-width="1.35"/>
<path d="M121.0 357.7L133.2 348.0L131.2 354.4L136.6 358.5Z" fill="#000"/>
</svg>
</body></html>
